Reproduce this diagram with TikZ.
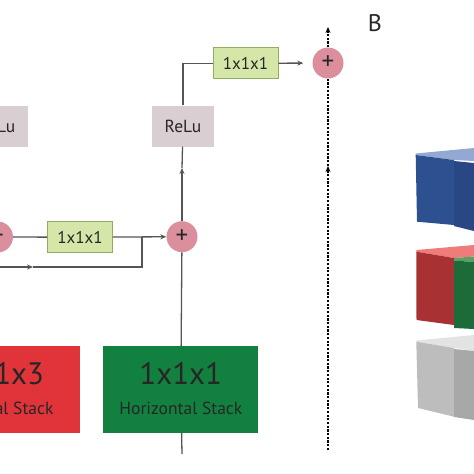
\documentclass[tikz,border=0pt]{standalone}
\usepackage{fontspec}
\setmainfont{PT Sans}
\usepackage{xcolor}
\usetikzlibrary{positioning,arrows.meta}

\definecolor{wiregray}{HTML}{555555}
\definecolor{relufill}{HTML}{D9CED1}
\definecolor{convfill}{HTML}{D4E7A8}
\definecolor{convline}{HTML}{8FAE5E}
\definecolor{plusfill}{HTML}{DB8F9C}
\definecolor{vred}{HTML}{E0343A}
\definecolor{hgreen}{HTML}{12803F}
\definecolor{blueface}{HTML}{2D5091}
\definecolor{bluetop}{HTML}{93A8D2}
\definecolor{redface}{HTML}{A83134}
\definecolor{redtop}{HTML}{EF7B7B}
\definecolor{greenface}{HTML}{1E6B3A}
\definecolor{greentop}{HTML}{5BA062}

\begin{document}
\begin{tikzpicture}[x=1pt,y=-1pt,>={Stealth[length=6pt,width=5pt]},
    wire/.style={draw=wiregray,line width=1.3pt},
    dots/.style={draw=black,line width=2.5pt,dash pattern=on 2.2pt off 1.5pt},
    relu/.style={fill=relufill,minimum width=62pt,minimum height=41pt,inner sep=0pt,
      text=black!85,font=\fontsize{17.5}{19}\selectfont},
    conv/.style={fill=convfill,draw=convline,line width=0.8pt,minimum width=65pt,
      minimum height=31pt,inner sep=0pt,text=black!85,font=\fontsize{17}{19}\selectfont},
    plus/.style={circle,fill=plusfill,minimum size=31pt,inner sep=0pt,text=black!85,
      font=\fontsize{25}{25}\selectfont},
    stack/.style={minimum width=155pt,minimum height=86.7pt,inner sep=0pt},
    sizetxt/.style={inner sep=0pt,text=black!85,font=\fontsize{31}{33}\selectfont},
    nametxt/.style={inner sep=0pt,text=black!85,font=\fontsize{17.5}{19}\selectfont}]
  \useasboundingbox (0,0) rectangle (474,474);
  \clip (0,0) rectangle (474,474);
  % gated block
  \node[relu] (reluV) at (-3,126) {ReLu};
  \node[relu] (reluH) at (183,126) {ReLu};
  \node[conv] (convOut) at (245.5,63.3) {1x1x1};
  \node[conv] (convMid) at (80,237.2) {1x1x1};
  \node[plus] (plusV) at (-2.5,237) {+};
  \node[plus] (plusH) at (182,236.7) {+};
  \node[plus] (plusOut) at (328,63) {+};
  \node[stack,fill=vred] (vstack) at (2.7,389.3) {};
  \node[stack,fill=hgreen] (hstack) at (180.8,389.3) {};
  \node[sizetxt] (vsize) at ([yshift=16pt]vstack.center) {1x1x3};
  \node[nametxt] (vname) at ([yshift=-19pt]vstack.center) {Vertical Stack};
  \node[sizetxt] (hsize) at ([yshift=16pt]hstack.center) {1x1x1};
  \node[nametxt] (hname) at ([yshift=-19pt]hstack.center) {Horizontal Stack};
  \node[font=\fontsize{24}{26}\selectfont,text=black!85] (labelB) at (375,23) {B};
  % connectors
  \coordinate (skipIn) at (-10,267);
  \coordinate (skipArr) at (33,267);
  \coordinate (skipTurn) at (142,267);
  \coordinate (skipJoin) at (142,237);
  \coordinate (reluArr) at (182,168);
  \coordinate (hIn) at (182,454);
  \draw[wire] (plusV) -- (convMid);
  \draw[wire,->] (convMid) -- (plusH);
  \draw[wire,->] (skipIn) -- (skipArr);
  \draw[wire] (skipArr) -- (skipTurn) -- (skipJoin);
  \draw[wire] (hIn) -- (hstack);
  \draw[wire] (hstack) -- (plusH);
  \draw[wire,->] (plusH) -- (reluArr);
  \draw[wire] (reluArr) -- (reluH);
  \draw[wire] (reluH.north) |- (convOut.west);
  \draw[wire,->,shorten >=9pt] (convOut) -- (plusOut);
  % residual path
  \coordinate (resIn) at (328,450);
  \coordinate (resArr) at (328,166);
  \coordinate (resOut) at (328,27);
  \draw[dots,->] (resIn) -- (resArr);
  \draw[dots] (resArr) -- (plusOut);
  \draw[dots,->] (plusOut) -- (resOut);
  % cubes
  \fill[bluetop] (415.7,153.5) -- (474,148) -- (474,161) -- (454,160) -- (415.7,155) -- cycle;
  \fill[blueface] (415.7,155) -- (454,160) -- (454,225) -- (417,221.7) -- cycle;
  \fill[blueface!90!black] (454,161) -- (474,163) -- (474,231) -- (454,226) -- cycle;
  \fill[redtop] (416.3,250) -- (474,245) -- (474,256.5) -- (454,258) -- (416.3,251.7) -- cycle;
  \fill[redface] (416.3,251.7) -- (454,258) -- (454,325) -- (416.5,320) -- cycle;
  \fill[greentop] (454,258) -- (474,256.5) -- (474,262) -- (454,260.5) -- cycle;
  \fill[greenface] (454,260.5) -- (474,262) -- (474,329) -- (454,328) -- cycle;
  \fill[black!11] (416.3,340.5) -- (474,335) -- (474,351) -- (454,348) -- (416.3,341.7) -- cycle;
  \fill[black!26] (416.3,341.7) -- (454,348) -- (454,416.7) -- (418,408) -- cycle;
  \fill[black!34] (454,349) -- (474,351) -- (474,420) -- (454,417) -- cycle;
\end{tikzpicture}
\end{document}
